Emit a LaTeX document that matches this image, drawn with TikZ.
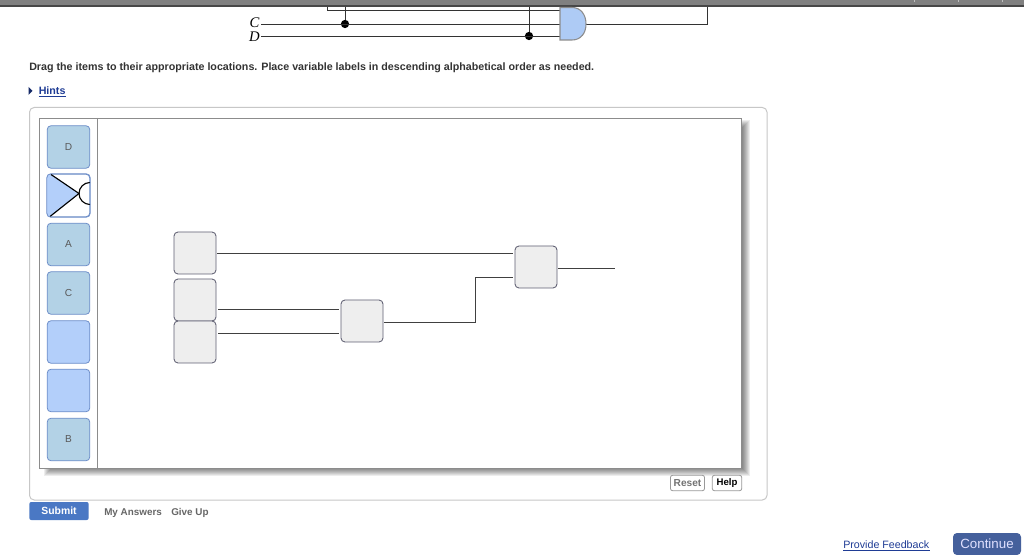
\documentclass[tikz,border=0pt]{standalone}
\usepackage{fontspec}
\setmainfont{Liberation Sans}
\newfontfamily\serifit[ItalicFont=Liberation Serif Italic]{Liberation Serif}
\usetikzlibrary{calc}
\definecolor{tilefill}{HTML}{B3D2E6}
\definecolor{tileedge}{HTML}{6F8FC9}
\definecolor{blankfill}{HTML}{B3CFFA}
\definecolor{slotfill}{HTML}{EEEEEE}
\definecolor{slotedge}{HTML}{5F5F72}
\definecolor{linkblue}{HTML}{1F3C95}
\definecolor{gatefill}{HTML}{AECBF5}
\definecolor{submitblue}{HTML}{4A78C4}
\definecolor{contblue}{HTML}{45609C}
\newcommand{\fsz}[1]{\fontsize{#1}{#1}\selectfont}
\tikzset{
  x=0.75pt,y=-0.75pt,
  tilebox/.style={draw=tileedge,line width=0.6pt,rounded corners=3pt,fill=tilefill,minimum width=32pt,minimum height=32pt,inner sep=0pt,text=black!65,font=\fsz{7.6pt}},
  blankbox/.style={tilebox,fill=blankfill},
  slotbox/.style={draw=slotedge,line width=0.65pt,rounded corners=3pt,fill=slotfill,minimum width=31.5pt,minimum height=31.5pt,inner sep=0pt},
  wire/.style={draw=black!75,line width=0.65pt},
  topwire/.style={draw=black!80,line width=0.6pt},
  blob/.style={circle,fill=black,inner sep=0pt,minimum size=6.2pt},
  bodytext/.style={inner sep=0pt,anchor=west,text=black!80,font=\fsz{8.02pt}\bfseries},
  footlink/.style={bodytext,text=black!60,font=\fsz{7.4pt}\bfseries},
  smallbtn/.style={draw=black!40,line width=0.6pt,rounded corners=1.5pt,fill=white,inner sep=0pt},
  wirelabel/.style={inner sep=0pt,font=\serifit\itshape\fsz{11pt},text=black}
}
\begin{document}
\begin{tikzpicture}
\useasboundingbox[fill=white] (0,0) rectangle (1024,555);
% top strip
\fill[black!50] (0,0) rectangle (1024,5.5);
\fill[black!72] (0,5.5) rectangle (1024,7.5);
\foreach \tx in {914,958,1002} \fill[white!75!black] (\tx,0) rectangle (\tx+0.8,2);
% top circuit
\coordinate (cstart) at (261,24);
\coordinate (dstart) at (261,36);
\coordinate (andc) at (560,24);
\coordinate (andd) at (560,36);
\coordinate (andt) at (560,10);
\coordinate (andout) at (586,24);
\coordinate (topl) at (327.5,7);
\coordinate (topr) at (707,7);
\node[wirelabel] (clabel) at (254.5,23) {C};
\node[wirelabel] (dlabel) at (254.5,36.5) {D};
\node[blob] (dotc) at (345,24) {};
\node[blob] (dotd) at (529,36) {};
\coordinate (upc) at (345,7);
\coordinate (upd) at (529,7);
\draw[topwire] (cstart) -- (andc);
\draw[topwire] (dstart) -- (andd);
\draw[topwire] (topl) |- (andt);
\draw[topwire] (upc) -- (dotc);
\draw[topwire] (upd) -- (dotd);
\draw[topwire] (andout) -| (topr);
\draw[draw=black!45,fill=gatefill,line width=0.8pt] (560,7.5) -- (572,7.5) .. controls (581,7.5) and (586,15) .. (586,24) .. controls (586,33) and (581,40) .. (572,40) -- (560,40) -- cycle;
% prompt
\node[bodytext] (prompt) at (29,68) {Drag the items to their appropriate locations. Place variable labels in descending alphabetical order as needed.};
\fill[linkblue!70!black] (28.5,87) -- (32.5,91) -- (28.5,95) -- cycle;
\node[bodytext,text=linkblue] (hints) at (38.5,91) {Hints};
\draw[linkblue,line width=0.6pt] ($(hints.south west)+(0,1.2)$) -- ($(hints.south east)+(0,1.2)$);
% outer panel
\draw[draw=black!22,line width=0.75pt,rounded corners=3.5pt,fill=white] (29.5,107.5) rectangle (767,500);
% inner panel shadow
\foreach \d in {8,7,6,5,4,3,2,1}
  \fill[black,opacity=0.07] (52-\d,128-\d) rectangle (741.5+\d,468+\d);
\draw[draw=black!45,line width=0.6pt,fill=white] (39.5,118) rectangle (741.5,468);
\draw[draw=black!45,line width=0.6pt] (97.5,118) -- (97.5,468);
% palette
\node[tilebox] (tiled) at (68.5,147) {D};
\node[tilebox,fill=white] (tilegate) at (68.5,195.5) {};
\begin{scope}
\clip[rounded corners=3pt] (47,174) rectangle (90,217);
\fill[blankfill] (47,174) -- (51,174) -- (79,193.5) -- (50,217) -- (47,217) -- cycle;
\draw[black,line width=0.85pt] (51,174.5) -- (79,193.5) -- (50,216.5);
\draw[black,line width=0.85pt] (90,193.5) circle[radius=11];
\end{scope}
\draw[tileedge,line width=0.6pt,rounded corners=3pt] (tilegate.south west) rectangle (tilegate.north east);
\node[tilebox] (tilea) at (68.5,244.5) {A};
\node[tilebox] (tilec) at (68.5,293) {C};
\node[blankbox] (blanka) at (68.5,342) {};
\node[blankbox] (blankb) at (68.5,390.5) {};
\node[tilebox] (tileb) at (68.5,439.5) {B};
% slots
\node[slotbox] (slota) at (195,253) {};
\node[slotbox] (slotb) at (195,300) {};
\node[slotbox] (slotc) at (195,342) {};
\node[slotbox] (slotm) at (362,321) {};
\node[slotbox] (slotr) at (536,267) {};
\coordinate (wa1) at (217,253.5);
\coordinate (wa2) at (512.5,253.5);
\coordinate (wb1) at (218,309.5);
\coordinate (wb2) at (339,309.5);
\coordinate (wc1) at (218,333);
\coordinate (wc2) at (339,333);
\coordinate (wm1) at (384,322);
\coordinate (wm2) at (475,322);
\coordinate (wm3) at (475,277);
\coordinate (wm4) at (513,277);
\coordinate (wr1) at (558,268.5);
\coordinate (wr2) at (615,268.5);
\draw[wire] (wa1) -- (wa2);
\draw[wire] (wb1) -- (wb2);
\draw[wire] (wc1) -- (wc2);
\draw[wire] (wm1) -- (wm2) -- (wm3) -- (wm4);
\draw[wire] (wr1) -- (wr2);
% panel buttons
\node[smallbtn,minimum width=25.5pt,minimum height=11.5pt,text=black!55,font=\fsz{7.6pt}\bfseries] (reset) at (687.5,483) {Reset};
\node[smallbtn,minimum width=22pt,minimum height=11.5pt,text=black,font=\fsz{7.2pt}\bfseries] (help) at (727,483) {Help};
% footer
\node[fill=submitblue,rounded corners=1.5pt,minimum width=44.5pt,minimum height=13.5pt,inner sep=0pt,text=white,font=\fsz{7.8pt}\bfseries] (submit) at (59,511) {Submit};
\node[footlink] (myans) at (104,513) {My Answers};
\node[footlink] (giveup) at (171,513) {Give Up};
\node[inner sep=0pt,anchor=west,text=linkblue,font=\fsz{8pt}] (feedback) at (843,544.5) {Provide Feedback};
\draw[linkblue,line width=0.6pt] ($(feedback.south west)+(0,2)$) -- ($(feedback.south east)+(0,2)$);
\node[fill=contblue,rounded corners=3pt,minimum width=51pt,minimum height=16.5pt,inner sep=0pt,text=white!88!blue,font=\fsz{10pt}] (continue) at (987,544) {Continue};
\end{tikzpicture}
\end{document}
